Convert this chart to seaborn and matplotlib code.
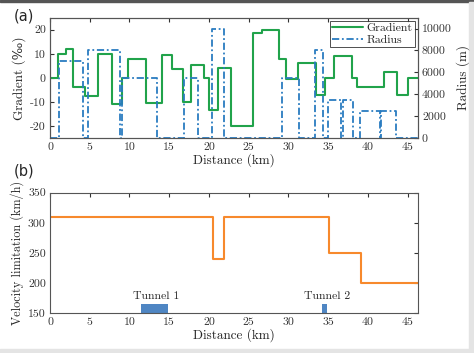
import numpy as np
import pandas as pd
import seaborn as sns
import matplotlib.pyplot as plt
from matplotlib.patches import Rectangle

# --- data (step functions, value holds until next break) ---
grad_km = [0, 1.05, 1.97, 2.93, 4.4, 6.1, 7.76, 9.0, 9.85, 12.1, 14.1, 15.3, 16.7,
           17.8, 19.4, 20.0, 21.2, 22.8, 25.6, 26.7, 28.8, 29.7, 31.2, 33.5, 34.6,
           35.8, 38.0, 38.7, 42.1, 43.7, 45.1, 46.3]
grad_val = [0, 10, 12, -4, -7.5, 10, -11, 0, 8, -10.5, 9.5, 3.5, -10,
            5.5, 0, -13.5, 4, -20, 18.5, 20, 8, -0.5, 6.3, -7, 0,
            9, 0, -4, 2.5, -7, 0, 0]

radius_km = [0, 1.17, 4.1, 4.74, 8.8, 9.1, 13.5, 16.9, 18.6, 20.4, 21.9, 29.2, 31.3,
             33.3, 34.4, 35.0, 36.6, 36.85, 38.2, 39.0, 41.5, 41.7, 43.5, 46.3]
radius_val = [0, 7000, 0, 8000, 0, 5500, 0, 5500, 0, 10000, 0, 5500, 0,
              8000, 0, 3500, 0, 3500, 0, 2500, 0, 2500, 0, 0]

speed_km = [0, 20.5, 21.9, 35.1, 39.2, 46.3]
speed_val = [310, 240, 310, 250, 200, 200]

tunnel_names = ["Tunnel 1", "Tunnel 2"]
tunnel_start = [11.4, 34.2]
tunnel_end = [14.8, 34.9]
tunnel_top = 166

df_g = pd.DataFrame({"km": grad_km, "grad": grad_val})
df_r = pd.DataFrame({"km": radius_km, "radius": radius_val})
df_v = pd.DataFrame({"km": speed_km, "speed": speed_val})

sns.set_style("white")
plt.rcParams["font.family"] = ["cmr10", "DejaVu Serif"]
plt.rcParams["axes.unicode_minus"] = False
plt.rcParams["axes.edgecolor"] = "#555555"
plt.rcParams["axes.linewidth"] = 0.8
plt.rcParams["xtick.direction"] = "in"
plt.rcParams["ytick.direction"] = "in"
plt.rcParams["xtick.color"] = "#333333"
plt.rcParams["ytick.color"] = "#333333"

GREEN = "#21a34b"
BLUE = "#2a7cc0"
ORANGE = "#f7892c"
TUNNEL = "#4f86c3"

fig = plt.figure(figsize=(4.74, 3.53), dpi=100)
ax1 = fig.add_axes([0.1055, 0.609, 0.776, 0.341])
ax2 = fig.add_axes([0.1055, 0.1125, 0.776, 0.342])

# (a) gradient + radius
sns.lineplot(data=df_g, x="km", y="grad", ax=ax1, color=GREEN, lw=1.5,
             drawstyle="steps-post", estimator=None, sort=False, label="Gradient",
             legend=False)
ax1r = ax1.twinx()
sns.lineplot(data=df_r, x="km", y="radius", ax=ax1r, color=BLUE, lw=1.3,
             linestyle=(0, (4, 1.5, 1, 1.5)), drawstyle="steps-post",
             estimator=None, sort=False, label="Radius", legend=False)
ax1.set_xlim(0, 46.3)
ax1.set_ylim(-25, 25)
ax1r.set_ylim(0, 11000)
ax1.set_yticks([-20, -10, 0, 10, 20])
ax1r.set_yticks([0, 2000, 4000, 6000, 8000, 10000])
ax1.set_xticks(range(0, 46, 5))
ax1.set_xlabel("Distance (km)", fontsize=9.5, labelpad=1)
ax1.set_ylabel("Gradient (‰)", fontsize=9.5, labelpad=3)
ax1r.set_ylabel("Radius (m)", fontsize=9.5, labelpad=3)
ax1.tick_params(labelsize=8.5, top=True, length=3, pad=3)
ax1r.tick_params(labelsize=8.5, length=3, pad=3)
h1, l1 = ax1.get_legend_handles_labels()
h2, l2 = ax1r.get_legend_handles_labels()
leg = ax1r.legend(h1 + h2, l1 + l2, loc="upper right", fontsize=8.5, frameon=True,
                  fancybox=False, borderpad=0.2, labelspacing=0.1, handlelength=2.6,
                  handletextpad=0.3, borderaxespad=0.25)
leg.get_frame().set_edgecolor("#222222")
leg.get_frame().set_linewidth(0.7)

# (b) velocity limitation
sns.lineplot(data=df_v, x="km", y="speed", ax=ax2, color=ORANGE, lw=1.5,
             drawstyle="steps-post", estimator=None, sort=False)
for name, s, e in zip(tunnel_names, tunnel_start, tunnel_end):
    ax2.bar(s, tunnel_top - 150, width=e - s, bottom=150, align="edge",
            color=TUNNEL, edgecolor="none")
    ax2.text((s + e) / 2 + 0.3, 170, name, ha="center", va="bottom", fontsize=8.5)
ax2.set_xlim(0, 46.3)
ax2.set_ylim(150, 350)
ax2.set_yticks([150, 200, 250, 300, 350])
ax2.set_xticks(range(0, 46, 5))
ax2.set_xlabel("Distance (km)", fontsize=9.5, labelpad=1)
ax2.set_ylabel("Velocity limitation (km/h)", fontsize=8.8, labelpad=3)
ax2.tick_params(labelsize=8.5, top=True, right=True, length=3, pad=3)

fig.text(0.03, 0.955, "(a)", fontsize=10.5, family="DejaVu Sans", va="center")
fig.text(0.03, 0.515, "(b)", fontsize=10.5, family="DejaVu Sans", va="center")

# frame of the original screenshot
fig.patches.append(Rectangle((0, 0.993), 1, 0.007, transform=fig.transFigure,
                             color="#555555", zorder=-1))
fig.patches.append(Rectangle((0.99, 0), 0.01, 0.993, transform=fig.transFigure,
                             color="#e4e4e4", zorder=-1))
fig.patches.append(Rectangle((0, 0), 1, 0.01, transform=fig.transFigure,
                             color="#e4e4e4", zorder=-1))

fig.savefig("out.png", dpi=100)
